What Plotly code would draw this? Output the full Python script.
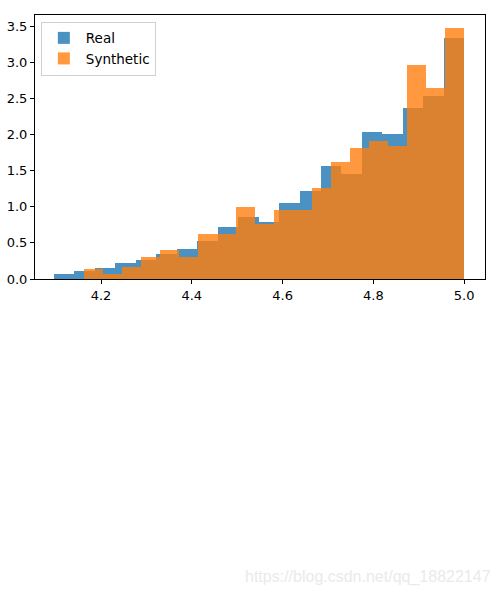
import numpy as np
import plotly.graph_objects as go

# density histograms, 20 bins each
real_range = [4.096, 5.0]
real_density = [0.069, 0.111, 0.153, 0.222, 0.264, 0.347, 0.416, 0.527, 0.721, 0.86,
                0.79, 1.054, 1.22, 1.567, 1.456, 2.039, 2.011, 2.372, 2.538, 3.343]

synth_range = [4.1625, 5.0]
synth_density = [0.139, 0.069, 0.166, 0.305, 0.402, 0.305, 0.624, 0.624, 0.999, 0.763,
                 0.957, 0.957, 1.262, 1.623, 1.817, 1.914, 1.845, 2.968, 2.649, 3.481]

x_ticks = [4.2, 4.4, 4.6, 4.8, 5.0]
y_ticks = [0.0, 0.5, 1.0, 1.5, 2.0, 2.5, 3.0, 3.5]


def bins(rng, n):
    edges = np.linspace(rng[0], rng[1], n + 1)
    return (edges[:-1] + edges[1:]) / 2, edges[1] - edges[0]


fig = go.Figure()
for name, rng, dens, color in [("Real", real_range, real_density, "#1f77b4"),
                                ("Synthetic", synth_range, synth_density, "#ff7f0e")]:
    centers, w = bins(rng, len(dens))
    fig.add_trace(go.Bar(x=centers, y=dens, width=w, name=name,
                         marker=dict(color=color, line=dict(width=0)), opacity=0.8))

axis_style = dict(showline=True, linecolor="black", linewidth=1, mirror=True,
                  ticks="outside", ticklen=4, tickcolor="black", showgrid=False,
                  zeroline=False, automargin=False,
                  tickfont=dict(family="DejaVu Sans", size=13, color="black"))

fig.update_xaxes(range=[4.0545, 5.046], tickvals=x_ticks, tickformat=".1f", **axis_style)
fig.update_yaxes(range=[0, 3.66], tickvals=y_ticks, tickformat=".1f", **axis_style)

fig.update_layout(
    width=500, height=597,
    margin=dict(l=35, r=15, t=15, b=318),
    barmode="overlay", bargap=0,
    plot_bgcolor="white", paper_bgcolor="white",
    legend=dict(x=0.013, y=0.975, xanchor="left", yanchor="top",
                bgcolor="white", bordercolor="#d0d0d0", borderwidth=1,
                font=dict(family="DejaVu Sans", size=13.5, color="black"),
                itemwidth=34, tracegroupgap=2),
    annotations=[dict(text="https://blog.csdn.net/qq_18822147", xref="paper", yref="paper",
                      x=1.018, y=-1.13, xanchor="right", yanchor="middle", showarrow=False,
                      font=dict(family="Liberation Sans", size=16, color="#eaeaea"))],
)

# page has a default 8px body margin, drop it so the figure sits at 0,0
fig.write_html("out.html", config={"displayModeBar": False},
               post_script="document.body.style.margin = '0';")
